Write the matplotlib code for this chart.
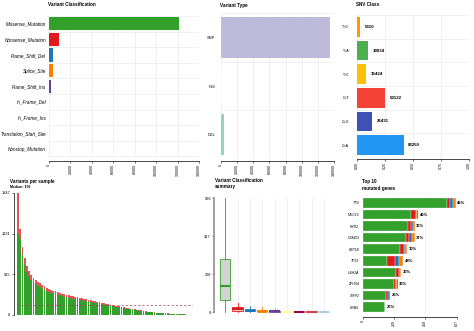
import matplotlib
matplotlib.use('Agg')
import matplotlib.pyplot as plt
import numpy as np

plt.rcParams['font.family'] = ['Liberation Sans', 'DejaVu Sans']

# ---- data ----
vc_labels = ['Missense_Mutation', 'Nonsense_Mutation', 'Frame_Shift_Del', 'Splice_Site',
             'Frame_Shift_Ins', 'In_Frame_Del', 'In_Frame_Ins', 'Translation_Start_Site',
             'Nonstop_Mutation']
vc_counts = [121000, 9300, 4100, 3600, 1900, 500, 300, 200, 150]
vc_colors = ['#33A02C', '#E31A1C', '#1F78B4', '#FF7F00', '#6A3D9A',
             '#FFFF99', '#9E0142', '#D53E4F', '#A6CEE3']
big_ticks = [0, 20000, 40000, 60000, 80000, 100000, 120000, 140000]

vt_labels = ['SNP', 'INS', 'DEL']
vt_counts = [134600, 1500, 4200]
vt_colors = ['#BEBADA', '#FFFFB3', '#8DD3C7']

snv_labels = ['T>G', 'T>A', 'T>C', 'C>T', 'C>G', 'C>A']
snv_counts = [5310, 19834, 15424, 50122, 26431, 83259]
snv_colors = ['#FF9800', '#4CAF50', '#FFC107', '#F44336', '#3F51B5', '#2196F3']
snv_ticks = [0, 0.25, 0.5, 0.75, 1.0]
snv_ticklabels = ['0.00', '0.25', '0.50', '0.75', '1.00']

sample_missense = [1231, 1150, 910, 760, 650, 588, 535, 497, 471, 445,
                   425, 406, 387, 364, 349, 336, 326, 315, 305, 297,
                   288, 279, 270, 263, 256, 249, 242, 235, 229, 223,
                   217, 211, 204, 197, 190, 184, 178, 172, 165, 157,
                   150, 144, 137, 131, 126, 120, 115, 109, 103, 98,
                   93, 87, 82, 77, 72, 68, 62, 58, 52, 46,
                   43, 39, 36, 33, 30, 28, 25, 23, 21, 20,
                   18, 16, 14, 12, 11, 9, 7, 6, 4, 3]
sample_other = [616, 150, 120, 100, 90, 82, 75, 68, 64, 60,
                57, 54, 51, 48, 46, 44, 42, 41, 40, 38,
                37, 36, 35, 34, 33, 32, 31, 30, 29, 28,
                27, 26, 25, 24, 23, 22, 21, 20, 20, 19,
                18, 17, 17, 16, 15, 15, 14, 13, 13, 12,
                11, 11, 10, 10, 9, 8, 8, 7, 6, 6,
                5, 5, 4, 4, 4, 3, 3, 3, 3, 2,
                2, 2, 2, 2, 1, 1, 1, 1, 1, 0]
sample_median = 156
sample_ticks = [0, 615, 1231, 1847]

box_q1 = [66, 7, 3, 2, 1, 0, 0, 0, 0]
box_med = [144, 17, 8, 6, 3, 1, 1, 1, 0]
box_q3 = [291, 29, 15, 11, 7, 4, 3, 3, 2]
box_hi = [626, 52, 34, 26, 16, 9, 7, 6, 4]
box_ticks = [0, 208, 417, 626]

genes = ['TTN', 'MUC16', 'RYR2', 'CSMD3', 'LRP1B', 'TP53', 'USH2A', 'ZFHX4', 'XIRP2', 'KRAS']
g_missense = [561, 323, 299, 286, 247, 165, 224, 207, 154, 147]
g_nonsense = [22, 30, 24, 26, 30, 48, 20, 15, 15, 0]
g_fsdel = [16, 5, 10, 16, 8, 29, 6, 0, 12, 0]
g_splice = [21, 5, 13, 18, 10, 26, 7, 4, 0, 0]
g_fsins = [0, 9, 0, 0, 0, 0, 0, 7, 0, 0]
g_pct = ['46%', '40%', '36%', '37%', '30%', '48%', '30%', '30%', '25%', '26%']
gene_ticks = [0, 209, 418, 627]

W, H = 474, 331
fig = plt.figure(figsize=(W / 100, H / 100), dpi=100)
GRID = '#E6E6E6'


def px_axes(l, t, r, b):
    return fig.add_axes([l / W, 1 - b / H, (r - l) / W, (b - t) / H])


def px_text(x, y, s, **kw):
    fig.text(x / W, 1 - y / H, s, va='center', ha='left', **kw)


def bottom_axis(ax, ticks, labels, off_px):
    for s in ['top', 'right', 'left']:
        ax.spines[s].set_visible(False)
    ax.spines['bottom'].set_position(('outward', off_px * 0.72))
    ax.spines['bottom'].set_bounds(ticks[0], ticks[-1])
    ax.spines['bottom'].set_linewidth(0.5)
    ax.set_xticks(ticks)
    ax.set_xticklabels(labels, rotation=90, fontsize=2.6)
    ax.tick_params(axis='x', length=1.5, width=0.4, pad=1)


# ---- Variant Classification ----
ax1 = px_axes(49, 16, 199, 156.5)
y = np.arange(len(vc_labels))
ax1.barh(y, vc_counts, height=0.85, color=vc_colors, zorder=2)
ax1.set_xlim(0, 140000)
ax1.set_ylim(len(vc_labels) - 0.5, -0.5)
ax1.set_yticks(y)
ax1.set_yticklabels(vc_labels, fontsize=3.3, style='italic')
ax1.tick_params(axis='y', length=0, pad=2)
ax1.set_yticks(np.arange(-0.5, len(vc_labels), 1), minor=True)
ax1.tick_params(axis='y', which='minor', length=0)
ax1.grid(axis='x', color=GRID, lw=0.4, zorder=0)
ax1.grid(axis='y', which='minor', color=GRID, lw=0.4, zorder=0)
bottom_axis(ax1, big_ticks, [str(t) for t in big_ticks], 4.5)
px_text(48, 5, 'Variant Classification', fontsize=3.3, fontweight='bold')

# ---- Variant Type ----
ax2 = px_axes(221, 13, 334, 159)
y = np.arange(len(vt_labels))
ax2.barh(y, vt_counts, height=0.84, color=vt_colors, zorder=2)
ax2.set_xlim(0, 140000)
ax2.set_ylim(len(vt_labels) - 0.5, -0.5)
ax2.set_yticks(y)
ax2.set_yticklabels(vt_labels, fontsize=2.9)
ax2.tick_params(axis='y', length=0, pad=4)
ax2.set_yticks(np.arange(-0.5, len(vt_labels), 1), minor=True)
ax2.tick_params(axis='y', which='minor', length=0)
ax2.grid(axis='x', color=GRID, lw=0.4, zorder=0)
ax2.grid(axis='y', which='minor', color=GRID, lw=0.4, zorder=0)
bottom_axis(ax2, big_ticks, [str(t) for t in big_ticks], 2)
px_text(220, 5, 'Variant Type', fontsize=3.3, fontweight='bold')

# ---- SNV Class ----
ax3 = px_axes(357, 15, 469, 157)
y = np.arange(len(snv_labels))
snv_frac = np.array(snv_counts) / sum(snv_counts)
ax3.barh(y, snv_frac, height=0.82, color=snv_colors, zorder=2)
for yi, f, c in zip(y, snv_frac, snv_counts):
    ax3.annotate(str(c), (f, yi), xytext=(3.4, 0), textcoords='offset points',
                 fontsize=3.2, fontweight='bold', va='center', ha='left')
ax3.set_xlim(0, 1)
ax3.set_ylim(len(snv_labels) - 0.5, -0.5)
ax3.set_yticks(y)
ax3.set_yticklabels(snv_labels, fontsize=2.6)
ax3.tick_params(axis='y', length=0, pad=5.5)
ax3.set_yticks(np.arange(-0.5, len(snv_labels), 1), minor=True)
ax3.tick_params(axis='y', which='minor', length=0)
ax3.grid(axis='x', color=GRID, lw=0.4, zorder=0)
ax3.grid(axis='y', which='minor', color=GRID, lw=0.4, zorder=0)
bottom_axis(ax3, snv_ticks, snv_ticklabels, 2)
px_text(356, 5, 'SNV Class', fontsize=3.3, fontweight='bold')

# ---- Variants per sample ----
ax4 = px_axes(17, 193, 193, 315)
xs = np.arange(len(sample_missense))
ax4.bar(xs, sample_missense, width=0.82, color='#33A02C', lw=0)
ax4.bar(xs, sample_other, width=0.82, bottom=sample_missense, color='#E31A1C', lw=0, alpha=0.75)
ax4.axhline(sample_median, color='#B03060', ls=(0, (3, 3)), lw=0.5)
ax4.set_xlim(-0.5, len(xs) - 0.5)
ax4.set_ylim(0, sample_ticks[-1])
for s in ['top', 'right', 'bottom']:
    ax4.spines[s].set_visible(False)
ax4.spines['left'].set_position(('outward', 2.5))
ax4.spines['left'].set_linewidth(0.5)
ax4.set_xticks([])
ax4.set_yticks(sample_ticks)
ax4.set_yticklabels([str(t) for t in sample_ticks], fontsize=2.8)
ax4.tick_params(axis='y', length=1.5, width=0.4, pad=1)
px_text(10, 181, 'Variants per sample', fontsize=3.3, fontweight='bold')
px_text(10, 186.5, 'Median: %d' % sample_median, fontsize=2.5, fontweight='bold')

# ---- Variant Classification summary ----
ax5 = px_axes(219, 198, 330, 312)
stats = []
for i in range(len(box_q1)):
    stats.append(dict(whislo=0, q1=box_q1[i], med=box_med[i], q3=box_q3[i], whishi=box_hi[i], fliers=[]))
bp = ax5.bxp(stats, positions=np.arange(len(stats)), widths=0.85, patch_artist=True,
             showcaps=False, showfliers=False)
for i, c in enumerate(vc_colors):
    bp['boxes'][i].set(facecolor='#D3D3D3', edgecolor=c, lw=0.6)
    bp['medians'][i].set(color=c, lw=1.5)
    bp['whiskers'][2 * i].set(color=c, lw=0.6)
    bp['whiskers'][2 * i + 1].set(color=c, lw=0.6)
for a in bp['boxes'] + bp['medians'] + bp['whiskers']:
    a.set_clip_on(False)
ax5.set_xlim(-0.5, len(stats) - 0.5)
ax5.set_ylim(0, box_ticks[-1])
for s in ['top', 'right', 'bottom']:
    ax5.spines[s].set_visible(False)
ax5.spines['left'].set_position(('outward', 3.3))
ax5.spines['left'].set_linewidth(1.3)
ax5.spines['left'].set_color('#999999')
ax5.set_xticks(np.arange(len(stats)))
ax5.set_xticklabels([])
ax5.tick_params(axis='x', length=0)
ax5.grid(axis='x', color=GRID, lw=0.4, zorder=0)
ax5.set_yticks(box_ticks)
ax5.set_yticklabels([str(t) for t in box_ticks], fontsize=2.8)
ax5.tick_params(axis='y', length=1.5, width=0.4, pad=1)
px_text(215, 181, 'Variant Classification', fontsize=3.3, fontweight='bold')
px_text(215, 186.5, 'summary', fontsize=3.3, fontweight='bold')

# ---- Top 10 mutated genes ----
ax6 = px_axes(362.7, 197.2, 456.7, 312.8)
y = np.arange(len(genes))
left = np.zeros(len(genes))
for vals, c in zip([g_missense, g_nonsense, g_fsdel, g_splice, g_fsins],
                   ['#33A02C', '#E31A1C', '#1F78B4', '#FF7F00', '#6A3D9A']):
    ax6.barh(y, vals, left=left, height=0.82, color=c, edgecolor='white', lw=0.2, zorder=2)
    left = left + np.array(vals)
for yi, tot, p in zip(y, left, g_pct):
    ax6.annotate(p, (tot, yi), xytext=(1.2, 0), textcoords='offset points',
                 fontsize=3, fontweight='bold', va='center', ha='left')
ax6.set_xlim(0, gene_ticks[-1])
ax6.set_ylim(len(genes) - 0.5, -0.5)
ax6.set_yticks(y)
ax6.set_yticklabels(genes, fontsize=2.4, style='italic')
ax6.tick_params(axis='y', length=0, pad=2.5)
ax6.grid(axis='x', color=GRID, lw=0.4, zorder=0)
bottom_axis(ax6, gene_ticks, [str(t) for t in gene_ticks], 4)
px_text(362, 182, 'Top 10', fontsize=3.3, fontweight='bold')
px_text(362, 188, 'mutated genes', fontsize=3.3, fontweight='bold')

fig.savefig('out.png', dpi=100)
